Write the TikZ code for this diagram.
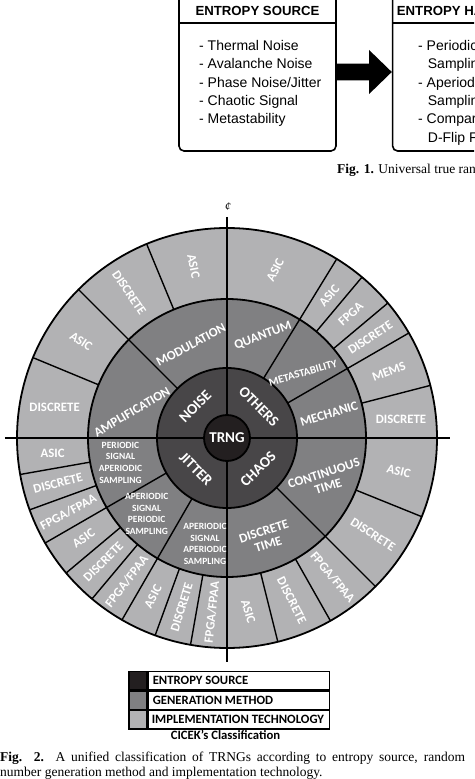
\documentclass[tikz,border=0pt]{standalone}
\usepackage{fontspec}
\setmainfont{Liberation Serif}
\setsansfont{Liberation Sans}
\newfontfamily\wheelfont{Carlito}
\usepackage{tikz}
\usetikzlibrary{calc, positioning, arrows.meta}
\usepackage{xcolor}
\definecolor{coreC}{RGB}{35, 31, 32}
\definecolor{sourceC}{RGB}{72, 70, 72}
\definecolor{methodC}{RGB}{128, 128, 130}
\definecolor{techC}{RGB}{178, 178, 180}
\newcommand{\fsz}[2]{\fontsize{#1}{#2}\selectfont}

\tikzset{
  ringline/.style={line width=1.8pt},
  spoke/.style={line width=1.4pt},
  axisline/.style={line width=1.1pt},
  wlabel/.style={text=white, inner sep=0pt, font=\wheelfont\bfseries\fsz{12.8}{14}},
  mlabel/.style={wlabel, font=\wheelfont\bfseries\fsz{13}{14}},
  slabel/.style={wlabel, font=\wheelfont\bfseries\fsz{15}{16}},
  tlabel/.style={wlabel, align=center, font=\wheelfont\bfseries\fsz{9.5}{11.7}},
  fbox/.style={draw, line width=1.6pt, rounded corners=5pt, minimum width=157pt, minimum height=158pt, inner sep=0pt},
  fitem/.style={inner sep=0pt, anchor=base west, font=\sffamily\fsz{14}{16}},
  fhead/.style={inner sep=0pt, font=\sffamily\bfseries\fsz{13.2}{15}},
  keybox/.style={draw, line width=1.2pt, minimum width=18pt, minimum height=18.3pt, inner sep=0pt},
  keycell/.style={draw, line width=1.2pt, minimum width=181pt, minimum height=18.3pt, inner sep=0pt},
  keylabel/.style={inner sep=0pt, anchor=west, font=\wheelfont\bfseries\fsz{12.7}{14}},
}

\begin{document}
\begin{tikzpicture}[x=1pt, y=1pt, >=Stealth]
  \useasboundingbox (-227,-341) rectangle (247,438);
  \clip (-227,-341) rectangle (247,438);

  % Fig. 1 (cut off at the top)
  \node[fbox] (srcbox) at (30.5,366) {};
  \node[fbox, right=55pt of srcbox] (harvbox) {};
  \draw[line width=1.6pt] (srcbox.west |- 0,415) -- (srcbox.east |- 0,415);
  \draw[line width=1.6pt] (harvbox.west |- 0,415) -- (harvbox.east |- 0,415);
  \node[fhead, anchor=base] (srchead) at (30.5,422.3) {ENTROPY SOURCE};
  \node[fhead, anchor=base west] (harvhead) at (169.7,422.3) {ENTROPY HARVESTING};
  \foreach \txt [count=\i] in {Thermal Noise, Avalanche Noise, {Phase Noise/Jitter}, Chaotic Signal, Metastability}
    \node[fitem] (src\i) at (-28,{387.5-18.35*(\i-1)}) {- \txt};
  \foreach \dx/\txt [count=\i] in {0/- Periodic, 9.7/Sampling, 0/- Aperiodic, 9.7/Sampling, 0/- Comparator, 9.7/D-Flip Flop}
    \node[fitem] (harv\i) at ({191+\dx},{387.5-18.35*(\i-1)}) {\txt};
  \fill ($(srcbox.east)+(0,8.4)$) -- ($(harvbox.west)+(-22.7,8.4)$) -- ($(harvbox.west)+(-22.7,22)$)
    -- (harvbox.west) -- ($(harvbox.west)+(-22.7,-22)$) -- ($(harvbox.west)+(-22.7,-8.4)$)
    -- ($(srcbox.east)+(0,-8.4)$) -- cycle;
  \node[inner sep=0pt, anchor=base west, font=\fsz{13.5}{15}] (cap1) at (110,264)
    {\textbf{Fig. 1.} Universal true random number generator};

  % Rings
  \fill[techC] (0,0) circle (210);
  \fill[methodC] (0,0) circle (139);
  \fill[sourceC] (0,0) circle (70);

  % Spokes of the generation methods and of the technologies
  \foreach \a in {135, 58.5, 30, -45, 210, 240}
    \draw[spoke] (\a:70) -- (\a:210);
  \foreach \a in {112.5, 157.5, 50, 40, 14.5, -22, -60.5, -76, 190, 200, 220, 230, 250, 260}
    \draw[spoke] (\a:139) -- (\a:210);

  % Axes
  \draw[axisline] (-222,0) -- (223,0);
  \draw[axisline] (0,221) -- (0,-224);
  \node[inner sep=0pt, font=\fsz{12}{14}] (cent) at (1,231) {\textit{¢}};

  \draw[ringline] (0,0) circle (210) (0,0) circle (139) (0,0) circle (70);
  \fill[coreC] (0,0) circle (23);
  \draw[ringline] (0,0) circle (23);

  % Entropy sources
  \node[slabel] (core) at (0,0) {TRNG};
  \node[slabel, rotate=45] (noise) at (135:45) {NOISE};
  \node[slabel, rotate=-45] (others) at (45:45) {OTHERS};
  \node[slabel, rotate=-45] (jitter) at (225:44) {JITTER};
  \node[slabel, rotate=45] (chaos) at (315:44) {CHAOS};

  % Generation methods
  \node[mlabel, rotate=28] (modul) at (-36,93) {MODULATION};
  \node[mlabel, rotate=30] (ampl) at (-95,26) {AMPLIFICATION};
  \node[mlabel, rotate=20] (quant) at (36,102) {QUANTUM};
  \node[mlabel, rotate=16, font=\wheelfont\bfseries\fsz{11}{12}] (meta) at (76,65) {METASTABILITY};
  \node[mlabel, rotate=17] (mech) at (102,24) {MECHANIC};
  \node[mlabel, rotate=18, align=center] (cont) at (99,-42) {CONTINUOUS\\TIME};
  \node[mlabel, rotate=18, align=center] (dtime) at (39,-100) {DISCRETE\\TIME};
  \node[tlabel] (pspa) at (-106.5,-24.5) {PERIODIC\\SIGNAL\\APERIODIC\\SAMPLING};
  \node[tlabel] (apps) at (-80.3,-76) {APERIODIC\\SIGNAL\\PERIODIC\\SAMPLING};
  \node[tlabel] (apas) at (-22,-106) {APERIODIC\\SIGNAL\\APERIODIC\\SAMPLING};

  % Implementation technologies
  \foreach \ang/\rot/\txt [count=\i] in {101/-79/ASIC, 124/-56/DISCRETE, 146.5/-33.5/ASIC, 170/0/DISCRETE,
      74/63/ASIC, 54.25/50/ASIC, 45/42/FPGA, 35/33/DISCRETE, 22.25/20/MEMS, 6/0/DISCRETE,
      -11/-14/ASIC, -33.5/-33/DISCRETE, -52.75/-50/{FPGA/FPAA}, -68.25/-63/DISCRETE, -83/-73/ASIC,
      185/0/ASIC, 195/15/DISCRETE, 205/28/{FPGA/FPAA}, 215/35/ASIC, 225/45/DISCRETE,
      235/52/{FPGA/FPAA}, 245/62/ASIC, 255/73/DISCRETE, 265/84/{FPGA/FPAA}}
    \node[wlabel, rotate=\rot] (tech\i) at (\ang:175) {\txt};

  % Legend
  \node[keybox, fill=coreC] (key1) at (-89,-242.85) {};
  \node[keycell, right=0pt of key1] (cell1) {};
  \node[keybox, fill=methodC, below=0pt of key1] (key2) {};
  \node[keycell, right=0pt of key2] (cell2) {};
  \node[keybox, fill=techC, below=0pt of key2] (key3) {};
  \node[keycell, right=0pt of key3] (cell3) {};
  \node[keylabel] (lbl1) at ($(cell1.west)+(5,0)$) {ENTROPY SOURCE};
  \node[keylabel] (lbl2) at ($(cell2.west)+(5,0)$) {GENERATION METHOD};
  \node[keylabel] (lbl3) at ($(cell3.west)+(4,0)$) {IMPLEMENTATION TECHNOLOGY};
  \node[inner sep=0pt, font=\wheelfont\bfseries\fsz{12.7}{14}] (cicek) at (-1.5,-297) {CICEK’s Classification};

  % Fig. 2 caption
  \node[inner sep=0pt, anchor=base west, text width=465pt, align=justify, font=\fsz{13.5}{15}] (cap2) at (-227,-323.7)
    {\textbf{Fig. 2.} A unified classification of TRNGs according to entropy source, random\linebreak
     number generation method and implementation technology.};
\end{tikzpicture}
\end{document}
